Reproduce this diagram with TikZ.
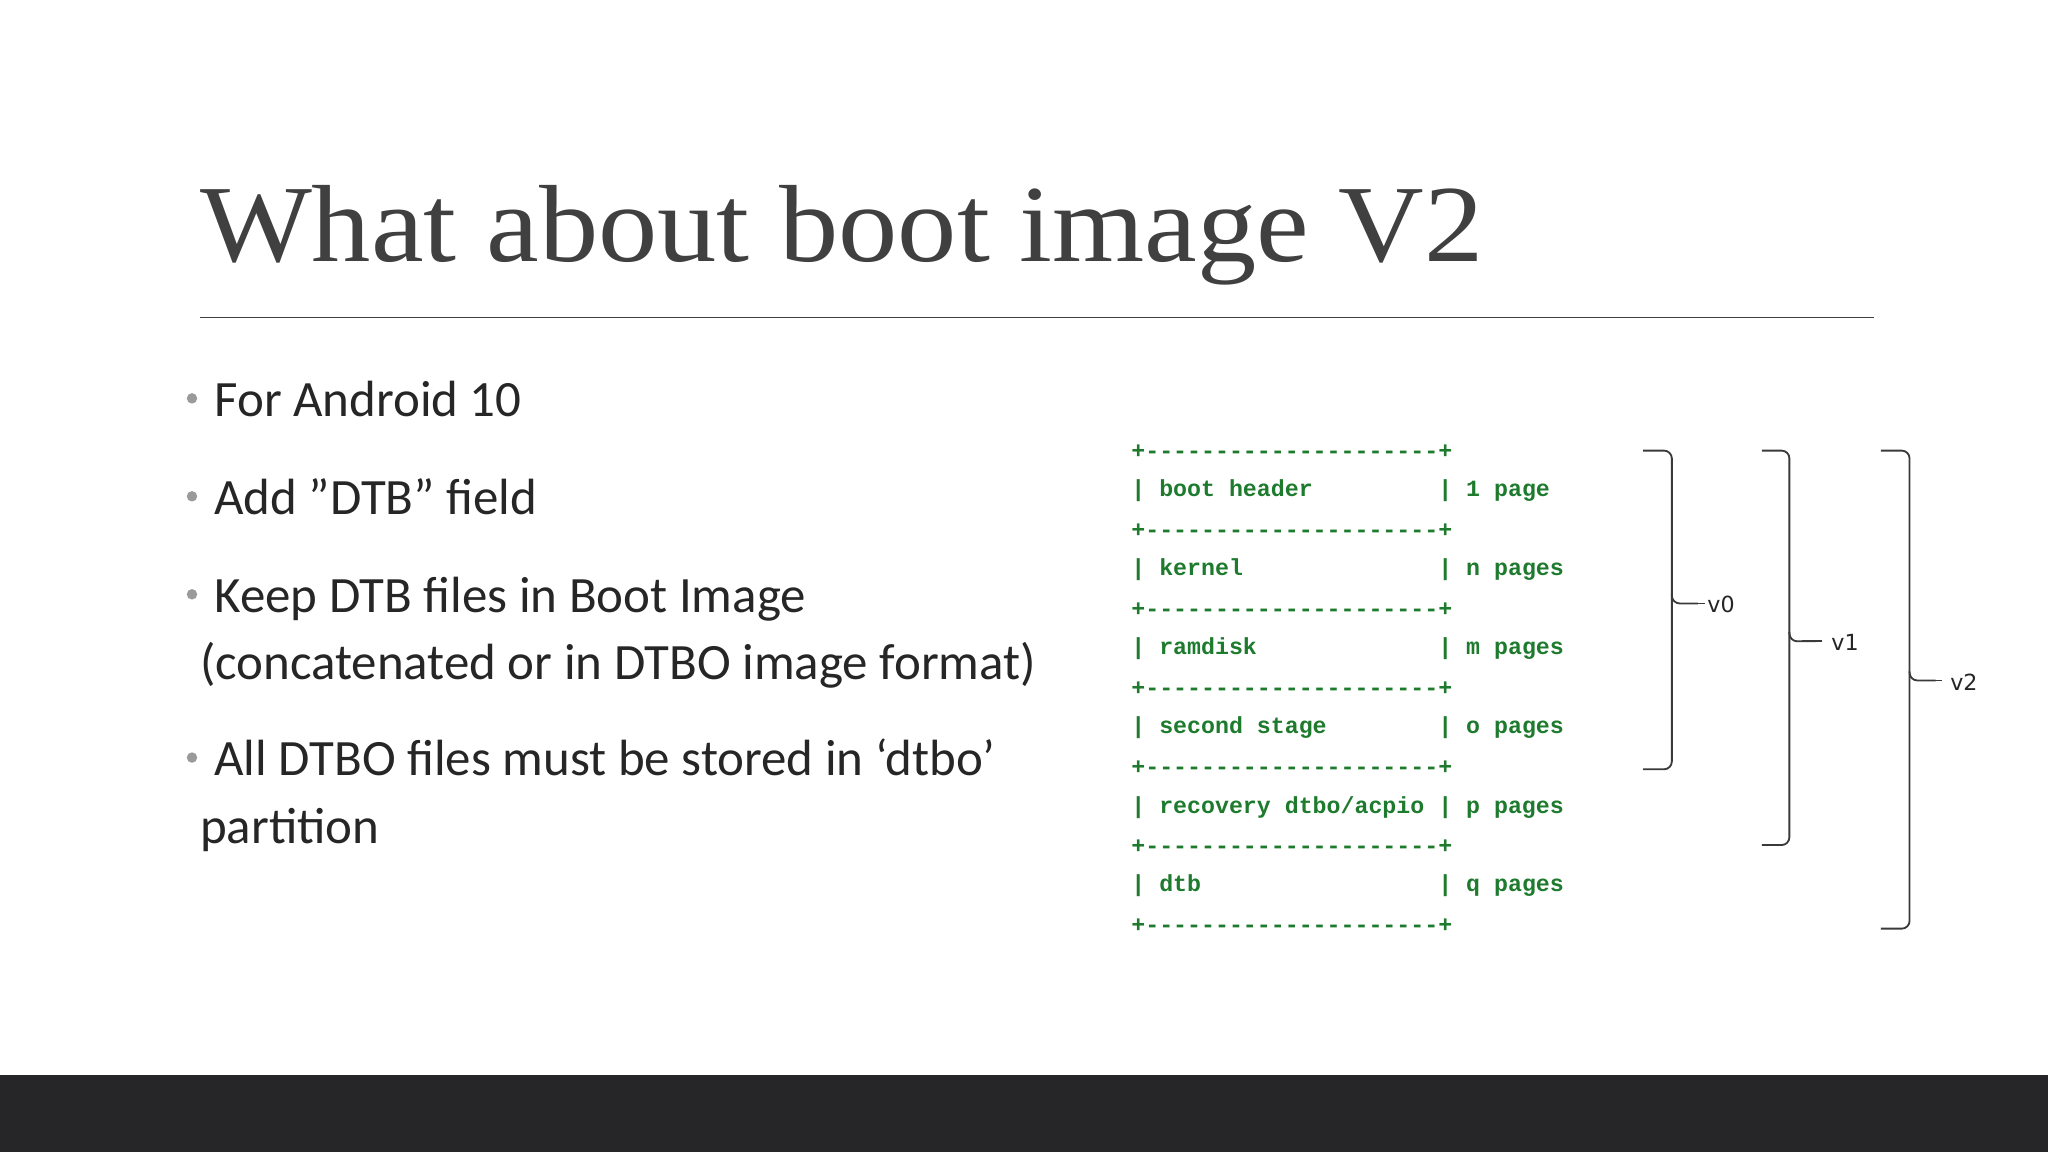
\documentclass[tikz,border=0pt]{standalone}
\usepackage{fontspec}
\setmainfont{Carlito}
\newfontfamily\titlefont{Liberation Serif}
\newfontfamily\monofont{Liberation Mono}
\newfontfamily\labfont{DejaVu Sans}
\definecolor{titlegray}{HTML}{404040}
\definecolor{txt}{HTML}{262626}
\definecolor{bulletgray}{HTML}{9A9A9A}
\definecolor{codegreen}{HTML}{1E7B2E}
\definecolor{band}{HTML}{262628}
\definecolor{brace}{HTML}{3A3A3A}
\begin{document}
\begin{tikzpicture}[x=1pt,y=-1pt,
  bul/.style={anchor=base west,inner sep=0,font=\fontsize{39}{44}\selectfont,text=txt},
  code/.style={anchor=west,inner sep=0,font=\monofont\bfseries\fontsize{17.8}{20}\selectfont,text=codegreen},
  brk/.style={draw=brace,line width=1.4pt,rounded corners=6pt},
  lab/.style={anchor=west,inner sep=0,font=\labfont\fontsize{17}{20}\selectfont,text=txt}]
\useasboundingbox (0,0) rectangle (1568,882);
\fill[white] (0,0) rectangle (1568,882);
\fill[band] (0,823) rectangle (1568,882);
\node[anchor=base west,inner sep=0,font=\titlefont\fontsize{84}{90}\selectfont,text=titlegray,xscale=1.08] (title) at (153,200) {What about boot image V2};
\draw[titlegray,line width=1.2pt] (153,243) -- (1435,243);
\foreach \y in {305,380,455,580} \fill[bulletgray] (147,\y) circle (4);
\node[bul] (b1) at (164,319) {For Android 10};
\node[bul] (b2) at (164,394) {Add \char34DTB\char34{} field};
\node[bul] (b3) at (164,469) {Keep DTB files in Boot Image};
\node[bul] (b3b) at (153,520) {(concatenated or in DTBO image format)};
\node[bul] (b4) at (164,594) {All DTBO files must be stored in ‘dtbo’};
\node[bul] (b4b) at (153,646) {partition};
\foreach \y/\n in {346/l0,406/l1,467/l2,527/l3,588/l4,648/l5,709/l6}
  \node[code] (\n) at (866,\y) {+---------------------+};
\node[code] (r1) at (866,376) {| boot header~~~~~~~~~| 1 page};
\node[code] (r2) at (866,436) {| kernel~~~~~~~~~~~~~~| n pages};
\node[code] (r3) at (866,497) {| ramdisk~~~~~~~~~~~~~| m pages};
\node[code] (r4) at (866,557) {| second stage~~~~~~~~| o pages};
\node[code] (r5) at (866,618) {| recovery dtbo/acpio | p pages};
\node[code] (r6) at (866,678) {| dtb~~~~~~~~~~~~~~~~~| q pages};
\draw[brk] (1258,345) -- (1280,345) -- (1280,462) -- (1300,462);
\draw[brk] (1280,455) -- (1280,589) -- (1258,589);
\draw[brace,line width=1.4pt] (1290,462) -- (1305,462);
\node[lab] (v0) at (1307,463) {v0};
\draw[brk] (1349,345) -- (1370,345) -- (1370,491) -- (1390,491);
\draw[brk] (1370,484) -- (1370,647) -- (1349,647);
\draw[brace,line width=1.4pt] (1380,491) -- (1395,491);
\node[lab] (v1) at (1402,492) {v1};
\draw[brk] (1440,345) -- (1462,345) -- (1462,521) -- (1482,521);
\draw[brk] (1462,514) -- (1462,711) -- (1440,711);
\draw[brace,line width=1.4pt] (1472,521) -- (1487,521);
\node[lab] (v2) at (1493,522) {v2};
\end{tikzpicture}
\end{document}
